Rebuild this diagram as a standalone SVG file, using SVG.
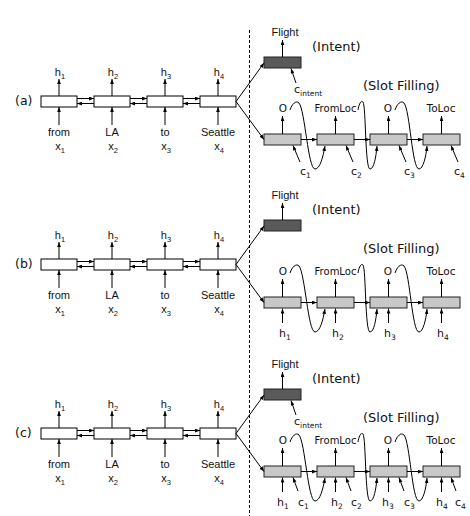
<svg xmlns="http://www.w3.org/2000/svg" width="470" height="516" viewBox="0 0 470 516">
<style>
.enc{fill:#fff;stroke:#000;stroke-width:1}
.dark{fill:#5a5a5a;stroke:#222;stroke-width:1}
.slot{fill:#c8c8c8;stroke:#222;stroke-width:1}
.ar{fill:none;stroke:#000;stroke-width:1;marker-end:url(#ah)}
.t{font-family:"Liberation Sans",Arial,sans-serif;font-size:11px;fill:#111}
.d{font-family:"DejaVu Sans",Verdana,sans-serif;fill:#111}
.m{text-anchor:middle}
</style>
<defs>
<marker id="ah" viewBox="0 0 8 6" refX="8" refY="3" markerWidth="5" markerHeight="4" markerUnits="userSpaceOnUse" orient="auto">
<path d="M0,0 L8,3 L0,6 z" fill="#000"/>
</marker>
</defs>
<rect width="470" height="516" fill="#fff"/>
<line x1="249.5" y1="30" x2="249.5" y2="516" stroke="#000" stroke-width="1" stroke-dasharray="3,2"/>

<!-- Panel A -->
<g id="panel-a">
<text class="d" x="15" y="105" font-size="12.5">(a)</text>
<g id="a-enc1"><rect class="enc" x="41" y="96" width="36" height="11"/><text class="t m" x="60" y="76">h<tspan font-size="7.5" dy="3">1</tspan></text><text class="t m" x="59" y="136">from</text><text class="t m" x="60" y="150">x<tspan font-size="7.5" dy="3">1</tspan></text></g>
<g id="a-enc2"><rect class="enc" x="94" y="96" width="36" height="11"/><text class="t m" x="113" y="76">h<tspan font-size="7.5" dy="3">2</tspan></text><text class="t m" x="112" y="136">LA</text><text class="t m" x="113" y="150">x<tspan font-size="7.5" dy="3">2</tspan></text></g>
<g id="a-enc3"><rect class="enc" x="147" y="96" width="36" height="11"/><text class="t m" x="166" y="76">h<tspan font-size="7.5" dy="3">3</tspan></text><text class="t m" x="165" y="136">to</text><text class="t m" x="166" y="150">x<tspan font-size="7.5" dy="3">3</tspan></text></g>
<g id="a-enc4"><rect class="enc" x="200" y="96" width="36" height="11"/><text class="t m" x="219" y="76">h<tspan font-size="7.5" dy="3">4</tspan></text><text class="t m" x="218" y="136">Seattle</text><text class="t m" x="219" y="150">x<tspan font-size="7.5" dy="3">4</tspan></text></g>
<g id="a-intent"><rect class="dark" x="264" y="57" width="37" height="11"/><text class="t m" x="285" y="36">Flight</text><text class="d" x="312" y="51" font-size="13">(Intent)</text><text class="d" x="294" y="93" font-size="11">c<tspan font-size="7.5" dy="3">intent</tspan></text></g>
<text class="d" x="363" y="90" font-size="13">(Slot Filling)</text>
<g id="a-slot1"><rect class="slot" x="264" y="134" width="37" height="11"/><text class="d m" x="283" y="112" font-size="10.5">O</text><text class="d" x="300" y="175" font-size="11">c<tspan font-size="7.5" dy="3">1</tspan></text></g>
<g id="a-slot2"><rect class="slot" x="317" y="134" width="37" height="11"/><text class="d m" x="335.5" y="112" font-size="10">FromLoc</text><text class="d" x="351" y="175" font-size="11">c<tspan font-size="7.5" dy="3">2</tspan></text></g>
<g id="a-slot3"><rect class="slot" x="370" y="134" width="37" height="11"/><text class="d m" x="388" y="112" font-size="10.5">O</text><text class="d" x="404" y="175" font-size="11">c<tspan font-size="7.5" dy="3">3</tspan></text></g>
<g id="a-slot4"><rect class="slot" x="423" y="134" width="37" height="11"/><text class="d m" x="441" y="112" font-size="10.5">ToLoc</text><text class="d" x="454" y="175" font-size="11">c<tspan font-size="7.5" dy="3">4</tspan></text></g>
<g id="a-connectors">
<line class="ar" x1="59" y1="96" x2="59" y2="79"/><line class="ar" x1="112" y1="96" x2="112" y2="79"/><line class="ar" x1="165" y1="96" x2="165" y2="79"/><line class="ar" x1="218" y1="96" x2="218" y2="79"/>
<line class="ar" x1="59" y1="125" x2="59" y2="107"/><line class="ar" x1="112" y1="125" x2="112" y2="107"/><line class="ar" x1="165" y1="125" x2="165" y2="107"/><line class="ar" x1="218" y1="125" x2="218" y2="107"/>
<line class="ar" x1="77" y1="98.5" x2="94" y2="98.5"/><line class="ar" x1="94" y1="103.5" x2="77" y2="103.5"/>
<line class="ar" x1="130" y1="98.5" x2="147" y2="98.5"/><line class="ar" x1="147" y1="103.5" x2="130" y2="103.5"/>
<line class="ar" x1="183" y1="98.5" x2="200" y2="98.5"/><line class="ar" x1="200" y1="103.5" x2="183" y2="103.5"/>
<line class="ar" x1="236" y1="101.5" x2="264" y2="63"/><line class="ar" x1="236" y1="101.5" x2="264" y2="139.5"/>
<line class="ar" x1="282.5" y1="57" x2="282.5" y2="40"/>
<line class="ar" x1="296" y1="83" x2="291" y2="68.5"/>
<line class="ar" x1="282.5" y1="134" x2="282.5" y2="116"/><line class="ar" x1="335.5" y1="134" x2="335.5" y2="116"/><line class="ar" x1="388.5" y1="134" x2="388.5" y2="116"/><line class="ar" x1="441.5" y1="134" x2="441.5" y2="116"/>
<line class="ar" x1="301" y1="139.5" x2="317" y2="139.5"/><line class="ar" x1="354" y1="139.5" x2="370" y2="139.5"/><line class="ar" x1="407" y1="139.5" x2="423" y2="139.5"/>
<line class="ar" x1="300" y1="162" x2="293" y2="145.5"/><line class="ar" x1="353" y1="162" x2="346" y2="145.5"/><line class="ar" x1="406" y1="162" x2="399" y2="145.5"/><line class="ar" x1="458" y1="162" x2="451" y2="145.5"/>
<path class="ar" d="M290,110 C292,104 296,100 299,103 C305,110 308,169 315,169 C320,169 323,157 325,146"/>
<path class="ar" d="M358,110 C359,104 361,100 363,102 C366,106 365,169 370,169 C374,169 376,157 377,146"/>
<path class="ar" d="M395,110 C397,104 401,100 404,103 C410,110 412,169 419,169 C423,169 426,157 427,146"/>
</g>
</g>

<!-- Panel B -->
<g id="panel-b" transform="translate(0,163)">
<text class="d" x="15" y="105" font-size="12.5">(b)</text>
<g id="b-enc1"><rect class="enc" x="41" y="96" width="36" height="11"/><text class="t m" x="60" y="76">h<tspan font-size="7.5" dy="3">1</tspan></text><text class="t m" x="59" y="136">from</text><text class="t m" x="60" y="150">x<tspan font-size="7.5" dy="3">1</tspan></text></g>
<g id="b-enc2"><rect class="enc" x="94" y="96" width="36" height="11"/><text class="t m" x="113" y="76">h<tspan font-size="7.5" dy="3">2</tspan></text><text class="t m" x="112" y="136">LA</text><text class="t m" x="113" y="150">x<tspan font-size="7.5" dy="3">2</tspan></text></g>
<g id="b-enc3"><rect class="enc" x="147" y="96" width="36" height="11"/><text class="t m" x="166" y="76">h<tspan font-size="7.5" dy="3">3</tspan></text><text class="t m" x="165" y="136">to</text><text class="t m" x="166" y="150">x<tspan font-size="7.5" dy="3">3</tspan></text></g>
<g id="b-enc4"><rect class="enc" x="200" y="96" width="36" height="11"/><text class="t m" x="219" y="76">h<tspan font-size="7.5" dy="3">4</tspan></text><text class="t m" x="218" y="136">Seattle</text><text class="t m" x="219" y="150">x<tspan font-size="7.5" dy="3">4</tspan></text></g>
<g id="b-intent"><rect class="dark" x="264" y="57" width="37" height="11"/><text class="t m" x="285" y="36">Flight</text><text class="d" x="312" y="51" font-size="13">(Intent)</text></g>
<text class="d" x="363" y="90" font-size="13">(Slot Filling)</text>
<g id="b-slot1"><rect class="slot" x="264" y="134" width="37" height="11"/><text class="d m" x="283" y="112" font-size="10.5">O</text><text class="d m" x="285" y="174" font-size="11">h<tspan font-size="7.5" dy="3">1</tspan></text></g>
<g id="b-slot2"><rect class="slot" x="317" y="134" width="37" height="11"/><text class="d m" x="335.5" y="112" font-size="10">FromLoc</text><text class="d m" x="338" y="174" font-size="11">h<tspan font-size="7.5" dy="3">2</tspan></text></g>
<g id="b-slot3"><rect class="slot" x="370" y="134" width="37" height="11"/><text class="d m" x="388" y="112" font-size="10.5">O</text><text class="d m" x="390" y="174" font-size="11">h<tspan font-size="7.5" dy="3">3</tspan></text></g>
<g id="b-slot4"><rect class="slot" x="423" y="134" width="37" height="11"/><text class="d m" x="441" y="112" font-size="10.5">ToLoc</text><text class="d m" x="443" y="174" font-size="11">h<tspan font-size="7.5" dy="3">4</tspan></text></g>
<g id="b-connectors">
<line class="ar" x1="59" y1="96" x2="59" y2="79"/><line class="ar" x1="112" y1="96" x2="112" y2="79"/><line class="ar" x1="165" y1="96" x2="165" y2="79"/><line class="ar" x1="218" y1="96" x2="218" y2="79"/>
<line class="ar" x1="59" y1="125" x2="59" y2="107"/><line class="ar" x1="112" y1="125" x2="112" y2="107"/><line class="ar" x1="165" y1="125" x2="165" y2="107"/><line class="ar" x1="218" y1="125" x2="218" y2="107"/>
<line class="ar" x1="77" y1="98.5" x2="94" y2="98.5"/><line class="ar" x1="94" y1="103.5" x2="77" y2="103.5"/>
<line class="ar" x1="130" y1="98.5" x2="147" y2="98.5"/><line class="ar" x1="147" y1="103.5" x2="130" y2="103.5"/>
<line class="ar" x1="183" y1="98.5" x2="200" y2="98.5"/><line class="ar" x1="200" y1="103.5" x2="183" y2="103.5"/>
<line class="ar" x1="236" y1="101.5" x2="264" y2="63"/><line class="ar" x1="236" y1="101.5" x2="264" y2="139.5"/>
<line class="ar" x1="282.5" y1="57" x2="282.5" y2="40"/>
<line class="ar" x1="282.5" y1="134" x2="282.5" y2="116"/><line class="ar" x1="335.5" y1="134" x2="335.5" y2="116"/><line class="ar" x1="388.5" y1="134" x2="388.5" y2="116"/><line class="ar" x1="441.5" y1="134" x2="441.5" y2="116"/>
<line class="ar" x1="301" y1="139.5" x2="317" y2="139.5"/><line class="ar" x1="354" y1="139.5" x2="370" y2="139.5"/><line class="ar" x1="407" y1="139.5" x2="423" y2="139.5"/>
<line class="ar" x1="282.5" y1="160" x2="282.5" y2="145.5"/><line class="ar" x1="335.5" y1="160" x2="335.5" y2="145.5"/><line class="ar" x1="388.5" y1="160" x2="388.5" y2="145.5"/><line class="ar" x1="441.5" y1="160" x2="441.5" y2="145.5"/>
<path class="ar" d="M290,110 C292,104 296,100 299,103 C305,110 308,169 315,169 C320,169 323,157 325,146"/>
<path class="ar" d="M358,110 C359,104 361,100 363,102 C366,106 365,169 370,169 C374,169 376,157 377,146"/>
<path class="ar" d="M395,110 C397,104 401,100 404,103 C410,110 412,169 419,169 C423,169 426,157 427,146"/>
</g>
</g>

<!-- Panel C -->
<g id="panel-c" transform="translate(0,332)">
<text class="d" x="15" y="105" font-size="12.5">(c)</text>
<g id="c-enc1"><rect class="enc" x="41" y="96" width="36" height="11"/><text class="t m" x="60" y="76">h<tspan font-size="7.5" dy="3">1</tspan></text><text class="t m" x="59" y="136">from</text><text class="t m" x="60" y="150">x<tspan font-size="7.5" dy="3">1</tspan></text></g>
<g id="c-enc2"><rect class="enc" x="94" y="96" width="36" height="11"/><text class="t m" x="113" y="76">h<tspan font-size="7.5" dy="3">2</tspan></text><text class="t m" x="112" y="136">LA</text><text class="t m" x="113" y="150">x<tspan font-size="7.5" dy="3">2</tspan></text></g>
<g id="c-enc3"><rect class="enc" x="147" y="96" width="36" height="11"/><text class="t m" x="166" y="76">h<tspan font-size="7.5" dy="3">3</tspan></text><text class="t m" x="165" y="136">to</text><text class="t m" x="166" y="150">x<tspan font-size="7.5" dy="3">3</tspan></text></g>
<g id="c-enc4"><rect class="enc" x="200" y="96" width="36" height="11"/><text class="t m" x="219" y="76">h<tspan font-size="7.5" dy="3">4</tspan></text><text class="t m" x="218" y="136">Seattle</text><text class="t m" x="219" y="150">x<tspan font-size="7.5" dy="3">4</tspan></text></g>
<g id="c-intent"><rect class="dark" x="264" y="57" width="37" height="11"/><text class="t m" x="285" y="36">Flight</text><text class="d" x="312" y="51" font-size="13">(Intent)</text><text class="d" x="294" y="93" font-size="11">c<tspan font-size="7.5" dy="3">intent</tspan></text></g>
<text class="d" x="363" y="90" font-size="13">(Slot Filling)</text>
<g id="c-slot1"><rect class="slot" x="264" y="134" width="37" height="11"/><text class="d m" x="283" y="112" font-size="10.5">O</text><text class="d m" x="283" y="174" font-size="11">h<tspan font-size="7.5" dy="3">1</tspan></text><text class="d" x="298" y="174" font-size="11">c<tspan font-size="7.5" dy="3">1</tspan></text></g>
<g id="c-slot2"><rect class="slot" x="317" y="134" width="37" height="11"/><text class="d m" x="335.5" y="112" font-size="10">FromLoc</text><text class="d m" x="337" y="174" font-size="11">h<tspan font-size="7.5" dy="3">2</tspan></text><text class="d" x="351" y="174" font-size="11">c<tspan font-size="7.5" dy="3">2</tspan></text></g>
<g id="c-slot3"><rect class="slot" x="370" y="134" width="37" height="11"/><text class="d m" x="388" y="112" font-size="10.5">O</text><text class="d m" x="388" y="174" font-size="11">h<tspan font-size="7.5" dy="3">3</tspan></text><text class="d" x="404" y="174" font-size="11">c<tspan font-size="7.5" dy="3">3</tspan></text></g>
<g id="c-slot4"><rect class="slot" x="423" y="134" width="37" height="11"/><text class="d m" x="441" y="112" font-size="10.5">ToLoc</text><text class="d m" x="442" y="174" font-size="11">h<tspan font-size="7.5" dy="3">4</tspan></text><text class="d" x="455" y="174" font-size="11">c<tspan font-size="7.5" dy="3">4</tspan></text></g>
<g id="c-connectors">
<line class="ar" x1="59" y1="96" x2="59" y2="79"/><line class="ar" x1="112" y1="96" x2="112" y2="79"/><line class="ar" x1="165" y1="96" x2="165" y2="79"/><line class="ar" x1="218" y1="96" x2="218" y2="79"/>
<line class="ar" x1="59" y1="125" x2="59" y2="107"/><line class="ar" x1="112" y1="125" x2="112" y2="107"/><line class="ar" x1="165" y1="125" x2="165" y2="107"/><line class="ar" x1="218" y1="125" x2="218" y2="107"/>
<line class="ar" x1="77" y1="98.5" x2="94" y2="98.5"/><line class="ar" x1="94" y1="103.5" x2="77" y2="103.5"/>
<line class="ar" x1="130" y1="98.5" x2="147" y2="98.5"/><line class="ar" x1="147" y1="103.5" x2="130" y2="103.5"/>
<line class="ar" x1="183" y1="98.5" x2="200" y2="98.5"/><line class="ar" x1="200" y1="103.5" x2="183" y2="103.5"/>
<line class="ar" x1="236" y1="101.5" x2="264" y2="63"/><line class="ar" x1="236" y1="101.5" x2="264" y2="139.5"/>
<line class="ar" x1="282.5" y1="57" x2="282.5" y2="40"/>
<line class="ar" x1="296" y1="83" x2="291" y2="68.5"/>
<line class="ar" x1="282.5" y1="134" x2="282.5" y2="116"/><line class="ar" x1="335.5" y1="134" x2="335.5" y2="116"/><line class="ar" x1="388.5" y1="134" x2="388.5" y2="116"/><line class="ar" x1="441.5" y1="134" x2="441.5" y2="116"/>
<line class="ar" x1="301" y1="139.5" x2="317" y2="139.5"/><line class="ar" x1="354" y1="139.5" x2="370" y2="139.5"/><line class="ar" x1="407" y1="139.5" x2="423" y2="139.5"/>
<line class="ar" x1="282.5" y1="160" x2="282.5" y2="145.5"/><line class="ar" x1="335.5" y1="160" x2="335.5" y2="145.5"/><line class="ar" x1="388.5" y1="160" x2="388.5" y2="145.5"/><line class="ar" x1="441.5" y1="160" x2="441.5" y2="145.5"/>
<line class="ar" x1="298" y1="159" x2="293" y2="145.5"/><line class="ar" x1="351" y1="159" x2="346" y2="145.5"/><line class="ar" x1="404" y1="159" x2="399" y2="145.5"/><line class="ar" x1="456" y1="159" x2="451" y2="145.5"/>
<path class="ar" d="M290,110 C292,104 296,100 299,103 C305,110 308,169 315,169 C320,169 323,157 325,146"/>
<path class="ar" d="M358,110 C359,104 361,100 363,102 C366,106 365,169 370,169 C374,169 376,157 377,146"/>
<path class="ar" d="M395,110 C397,104 401,100 404,103 C410,110 412,169 419,169 C423,169 426,157 427,146"/>
</g>
</g>
</svg>
